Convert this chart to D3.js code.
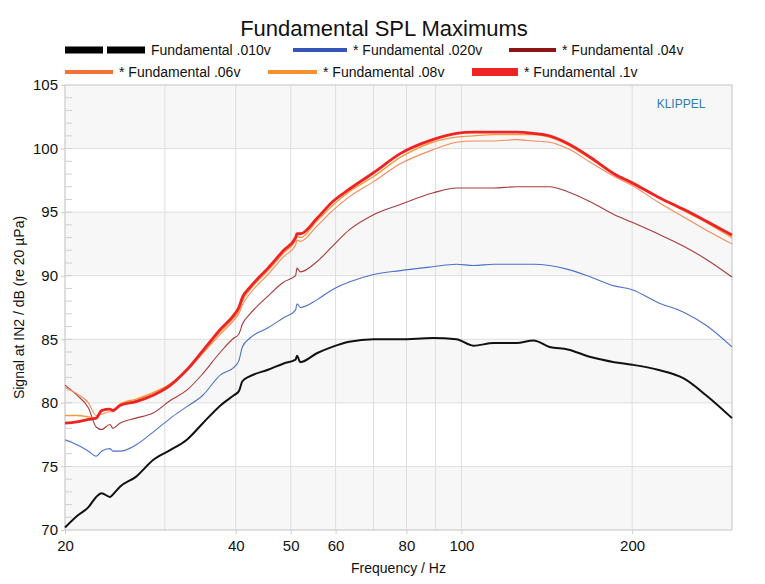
<!DOCTYPE html>
<html>
<head>
<meta charset="utf-8">
<script src="https://cdn.jsdelivr.net/npm/d3@7"></script>
<style>
  body { margin: 0; background: #fff; }
  svg { font-family: "Liberation Sans", Arial, sans-serif; }
</style>
</head>
<body>
<svg id="chart" width="765" height="584"></svg>
<script>
// frequency points (Hz) shared by all curves
const freqs = [20, 21, 22, 22.7, 23.2, 24, 24.3, 25, 26.7, 28.6, 30.7, 32.8, 35, 37.6, 39.7, 40.5, 41.1, 42.4, 45.6, 48.6, 51, 51.3, 52, 55.6, 59.2, 63.4, 70, 78, 89, 98, 105, 114, 125, 134, 143, 154, 169, 186, 200, 222, 247, 270, 300];

const spl010 = [70.2, 71.1, 71.8, 72.6, 72.9, 72.6, 72.8, 73.4, 74.2, 75.5, 76.3, 77.1, 78.4, 79.8, 80.6, 80.9, 81.7, 82.1, 82.6, 83.1, 83.4, 83.7, 83.2, 83.9, 84.4, 84.8, 85.0, 85.0, 85.1, 85.0, 84.5, 84.7, 84.7, 84.9, 84.4, 84.2, 83.6, 83.2, 83.0, 82.6, 81.9, 80.6, 78.8];
const spl020 = [77.1, 76.7, 76.2, 75.8, 76.2, 76.4, 76.2, 76.2, 76.7, 77.7, 78.8, 79.7, 80.6, 82.2, 82.8, 83.3, 84.4, 85.1, 85.9, 86.7, 87.3, 87.8, 87.5, 88.1, 88.9, 89.5, 90.1, 90.4, 90.7, 90.9, 90.8, 90.9, 90.9, 90.9, 90.8, 90.5, 89.9, 89.2, 88.9, 87.9, 87.1, 86.1, 84.4];
const spl04 = [81.4, 80.6, 79.6, 78.1, 77.9, 78.3, 78.0, 78.4, 78.8, 79.2, 80.2, 81.0, 82.3, 84.0, 85.1, 85.4, 86.2, 87.0, 88.4, 89.5, 90.0, 90.6, 90.3, 91.1, 92.3, 93.6, 94.8, 95.6, 96.5, 96.9, 96.9, 96.9, 97.0, 97.0, 97.0, 96.6, 95.8, 94.8, 94.2, 93.3, 92.3, 91.3, 89.9];
const spl06 = [81.2, 80.7, 80.0, 79.0, 79.1, 79.3, 79.3, 79.8, 80.2, 80.8, 81.5, 82.5, 83.9, 85.4, 86.5, 87.0, 87.7, 88.6, 90.1, 91.5, 92.4, 92.8, 92.7, 93.9, 95.1, 96.2, 97.4, 98.8, 99.9, 100.5, 100.6, 100.6, 100.7, 100.6, 100.5, 100.0, 98.9, 97.8, 97.1, 95.8, 94.6, 93.6, 92.5];
const spl08 = [79.0, 79.0, 78.9, 78.8, 79.3, 79.5, 79.4, 79.9, 80.3, 80.8, 81.5, 82.6, 84.0, 85.6, 86.7, 87.2, 88.0, 88.9, 90.4, 91.8, 92.8, 93.1, 93.0, 94.3, 95.5, 96.6, 97.8, 99.3, 100.5, 100.9, 101.0, 101.1, 101.1, 101.1, 100.9, 100.3, 99.2, 98.0, 97.4, 96.2, 95.1, 94.2, 93.0];
const spl1 = [78.4, 78.5, 78.7, 78.8, 79.4, 79.5, 79.4, 79.8, 80.1, 80.6, 81.4, 82.6, 84.1, 85.8, 86.9, 87.5, 88.3, 89.1, 90.6, 92.0, 93.0, 93.3, 93.3, 94.5, 95.8, 96.8, 98.1, 99.6, 100.7, 101.2, 101.3, 101.3, 101.3, 101.2, 101.0, 100.4, 99.3, 98.0, 97.3, 96.2, 95.2, 94.3, 93.2];

const seriesNames = ["Fundamental .010v", "* Fundamental .020v", "* Fundamental .04v", "* Fundamental .06v", "* Fundamental .08v", "* Fundamental .1v"];
const seriesValues = [spl010, spl020, spl04, spl06, spl08, spl1];
const seriesColors = ["#111111", "#4b72c8", "#a83a3a", "#f58a5a", "#f59a3c", "#ee2424"];
const legendColors = ["#000000", "#3556b8", "#8c1414", "#f07438", "#f59030", "#ee2424"];
const seriesWidths = [2, 1.1, 1.1, 1.1, 1.4, 2.8];

const xTickValues = [20, 40, 50, 60, 80, 100, 200];
const xGridValues = [20, 30, 40, 50, 60, 70, 80, 90, 100, 200, 300];
const yTickValues = [70, 75, 80, 85, 90, 95, 100, 105];

const W = 765, H = 584;
const margin = { top: 85, right: 33, bottom: 54, left: 65 };
const width = W - margin.left - margin.right;
const height = H - margin.top - margin.bottom;

const svg = d3.select("#chart");

const x = d3.scaleLog().domain([20, 300]).range([0, width]);
const y = d3.scaleLinear().domain([70, 105]).range([height, 0]);

const g = svg.append("g").attr("transform", "translate(" + margin.left + "," + margin.top + ")");

// alternating bands
for (let i = 0; i < yTickValues.length - 1; i++) {
    g.append("rect")
        .attr("x", 0)
        .attr("y", y(yTickValues[i + 1]))
        .attr("width", width)
        .attr("height", y(yTickValues[i]) - y(yTickValues[i + 1]))
        .attr("fill", i % 2 === 0 ? "#f7f7f7" : "#ffffff");
}

// grid
g.selectAll(".vgrid").data(xGridValues).enter().append("line")
    .attr("x1", d => x(d)).attr("x2", d => x(d))
    .attr("y1", 0).attr("y2", height)
    .attr("stroke", "#dedede").attr("stroke-width", 1);
g.selectAll(".hgrid").data(yTickValues).enter().append("line")
    .attr("x1", 0).attr("x2", width)
    .attr("y1", d => y(d)).attr("y2", d => y(d))
    .attr("stroke", "#dedede").attr("stroke-width", 1);

// minor y ticks inside plot
g.selectAll(".minor").data(d3.range(71, 105)).enter().append("line")
    .attr("x1", 0).attr("x2", 7)
    .attr("y1", d => y(d)).attr("y2", d => y(d))
    .attr("stroke", "#d0d0d0").attr("stroke-width", 1);

// border
g.append("rect")
    .attr("width", width).attr("height", height)
    .attr("fill", "none").attr("stroke", "#cfcfcf");

// curves
const line = d3.line()
    .x((d, i) => x(freqs[i]))
    .y(d => y(d))
    .curve(d3.curveMonotoneX);

seriesValues.forEach((vals, k) => {
    g.append("path")
        .datum(vals)
        .attr("fill", "none")
        .attr("stroke", seriesColors[k])
        .attr("stroke-width", seriesWidths[k])
        .attr("stroke-linejoin", "round")
        .attr("d", line);
});

// axes
const xAxis = g.append("g")
    .attr("transform", "translate(0," + height + ")")
    .call(d3.axisBottom(x).tickValues(xTickValues).tickFormat(d3.format("d")).tickSize(4).tickPadding(6));
const yAxis = g.append("g")
    .call(d3.axisLeft(y).tickValues(yTickValues).tickSize(4).tickPadding(3));
[xAxis, yAxis].forEach(a => {
    a.select(".domain").remove();
    a.selectAll("line").attr("stroke", "#cfcfcf");
    a.selectAll("text").attr("font-size", 15).attr("fill", "#111")
        .attr("font-family", "'Liberation Sans', Arial, sans-serif");
});

// labels
svg.append("text")
    .attr("x", 384).attr("y", 36)
    .attr("text-anchor", "middle")
    .attr("font-size", 22).attr("fill", "#111")
    .text("Fundamental SPL Maximums");

svg.append("text")
    .attr("x", margin.left + width / 2).attr("y", 573)
    .attr("text-anchor", "middle")
    .attr("font-size", 14).attr("fill", "#111")
    .text("Frequency / Hz");

svg.append("text")
    .attr("transform", "translate(24," + (margin.top + height / 2) + ") rotate(-90)")
    .attr("text-anchor", "middle")
    .attr("font-size", 14).attr("fill", "#111")
    .text("Signal at IN2 / dB (re 20 µPa)");

svg.append("text")
    .attr("x", 681).attr("y", 108)
    .attr("text-anchor", "middle")
    .attr("font-size", 12).attr("fill", "#2f7db2")
    .text("KLIPPEL");

// legend
const legendPos = [
    { x: 65, y: 50, sw: 80 }, { x: 293, y: 50, sw: 54 }, { x: 509, y: 50, sw: 47 },
    { x: 65, y: 72, sw: 48 }, { x: 268, y: 72, sw: 49 }, { x: 472, y: 72, sw: 46 }
];
const swH = [7, 4, 4, 4, 4, 8];
const leg = svg.append("g");
seriesNames.forEach((name, k) => {
    const p = legendPos[k];
    if (k === 0) {
        leg.append("rect").attr("x", p.x).attr("y", p.y - swH[k] / 2).attr("width", 38).attr("height", swH[k]).attr("fill", legendColors[k]);
        leg.append("rect").attr("x", p.x + 42).attr("y", p.y - swH[k] / 2).attr("width", 38).attr("height", swH[k]).attr("fill", legendColors[k]);
    } else {
        leg.append("rect").attr("x", p.x).attr("y", p.y - swH[k] / 2).attr("width", p.sw).attr("height", swH[k]).attr("fill", legendColors[k]);
    }
    leg.append("text")
        .attr("x", p.x + p.sw + 6).attr("y", p.y + 5)
        .attr("font-size", 14).attr("fill", "#111")
        .text(name);
});
</script>
</body>
</html>
